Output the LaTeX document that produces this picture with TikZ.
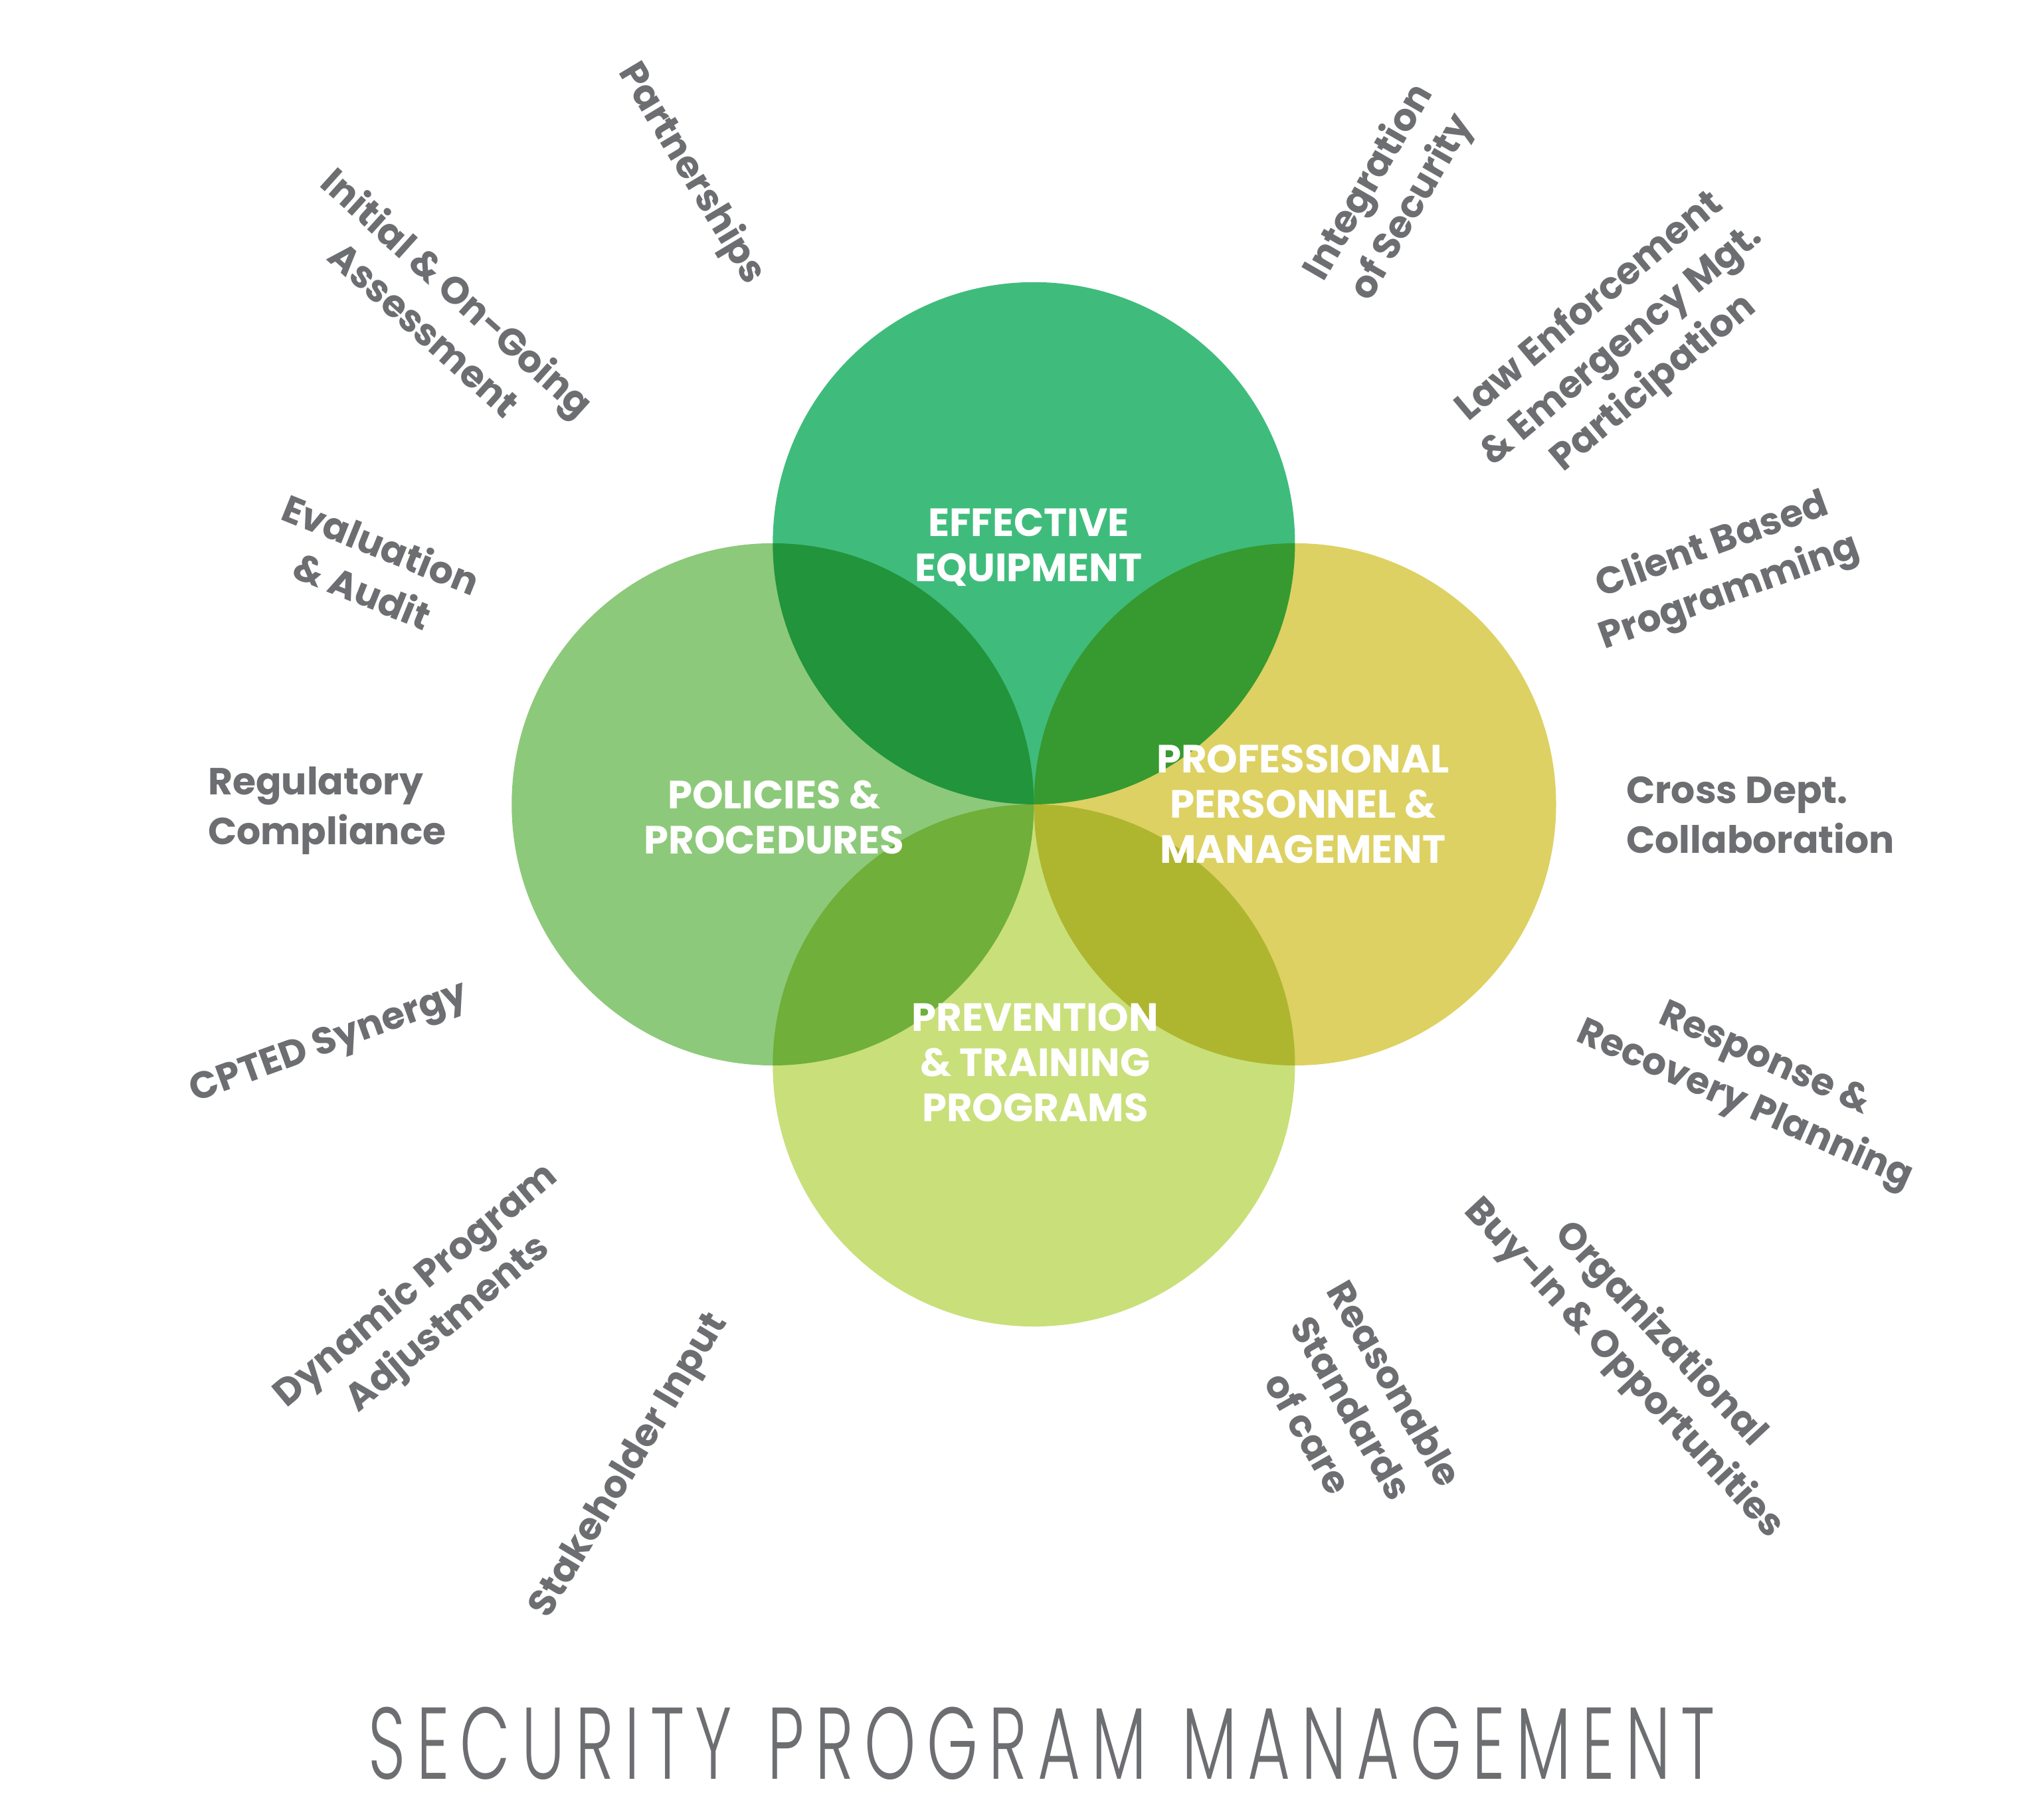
\documentclass[tikz,border=0pt]{standalone}
\usepackage{fontspec}
\setmainfont{Poppins}
\newfontfamily\lab{Poppins Bold}
\newfontfamily\ttl{Poppins Light}
\begin{document}
\begin{tikzpicture}[x=0.02cm,y=-0.02cm]
\definecolor{gtxt}{HTML}{6D6E71}
\definecolor{cL}{HTML}{8DC97A}
\definecolor{cR}{HTML}{DDD163}
\definecolor{cB}{HTML}{C9DF7A}
\definecolor{cT}{HTML}{3FBC7C}
\tikzset{
  side/.style={text=gtxt,font=\lab\fontsize{16.3}{21.5}\selectfont,align=center},
  inner/.style={text=white,font=\lab\fontsize{17}{19.5}\selectfont,align=center},
}
\useasboundingbox (0,0) rectangle (1550,1371);
\fill[white] (0,0) rectangle (1550,1371);
\begin{scope}[blend group=multiply]
\fill[cL] (586,610) circle (198);
\fill[cR] (982,610) circle (198);
\fill[cB] (784,808) circle (198);
\fill[cT] (784,412) circle (198);
\end{scope}
\node[inner] (t) at (780,415) {EFFECTIVE\\EQUIPMENT};
\node[inner] (l) at (587,620) {POLICIES \&\\PROCEDURES};
\node[inner] (r) at (988,610) {PROFESSIONAL\\PERSONNEL \&\\MANAGEMENT};
\node[inner] (b) at (785,806) {PREVENTION\\\& TRAINING\\PROGRAMS};
\node[side,rotate=-59] (s1) at (524,132) {Partnerships};
\node[side,rotate=-42] (s2) at (335,235) {Initial \& On-Going\\Assessment};
\node[side,rotate=-22] (s3) at (282,430) {Evaluation\\\& Audit};
\node[side,align=left] (s4) at (248,615) {Regulatory\\Compliance};
\node[side,rotate=20] (s5) at (250,792) {CPTED Synergy};
\node[side,rotate=40] (s6) at (328,990) {Dynamic Program\\Adjustments};
\node[side,rotate=59] (s7) at (478,1112) {Stakeholder Input};
\node[side,rotate=-60] (s8) at (1025,1068) {Reasonable\\Standards\\of care};
\node[side,rotate=-47] (s9) at (1245,1025) {Organizational\\Buy-In \& Opportunities};
\node[side,rotate=-24] (s10) at (1330,822) {Response \&\\Recovery Planning};
\node[side,align=left] (s11) at (1335,618) {Cross Dept.\\Collaboration};
\node[side,rotate=20] (s12) at (1305,432) {Client Based\\Programming};
\node[side,rotate=40] (s13) at (1230,262) {Law Enforcement\\\& Emergency Mgt.\\Participation};
\node[side,rotate=60] (s14) at (1055,148) {Integration\\of Security};
\node[text=gtxt,font=\ttl\fontsize{44}{50}\selectfont,xscale=0.64] (title) at (790,1322) {S\,E\,C\,U\,R\,I\,T\,Y\ \ P\,R\,O\,G\,R\,A\,M\ \ M\,A\,N\,A\,G\,E\,M\,E\,N\,T};
\end{tikzpicture}
\end{document}
